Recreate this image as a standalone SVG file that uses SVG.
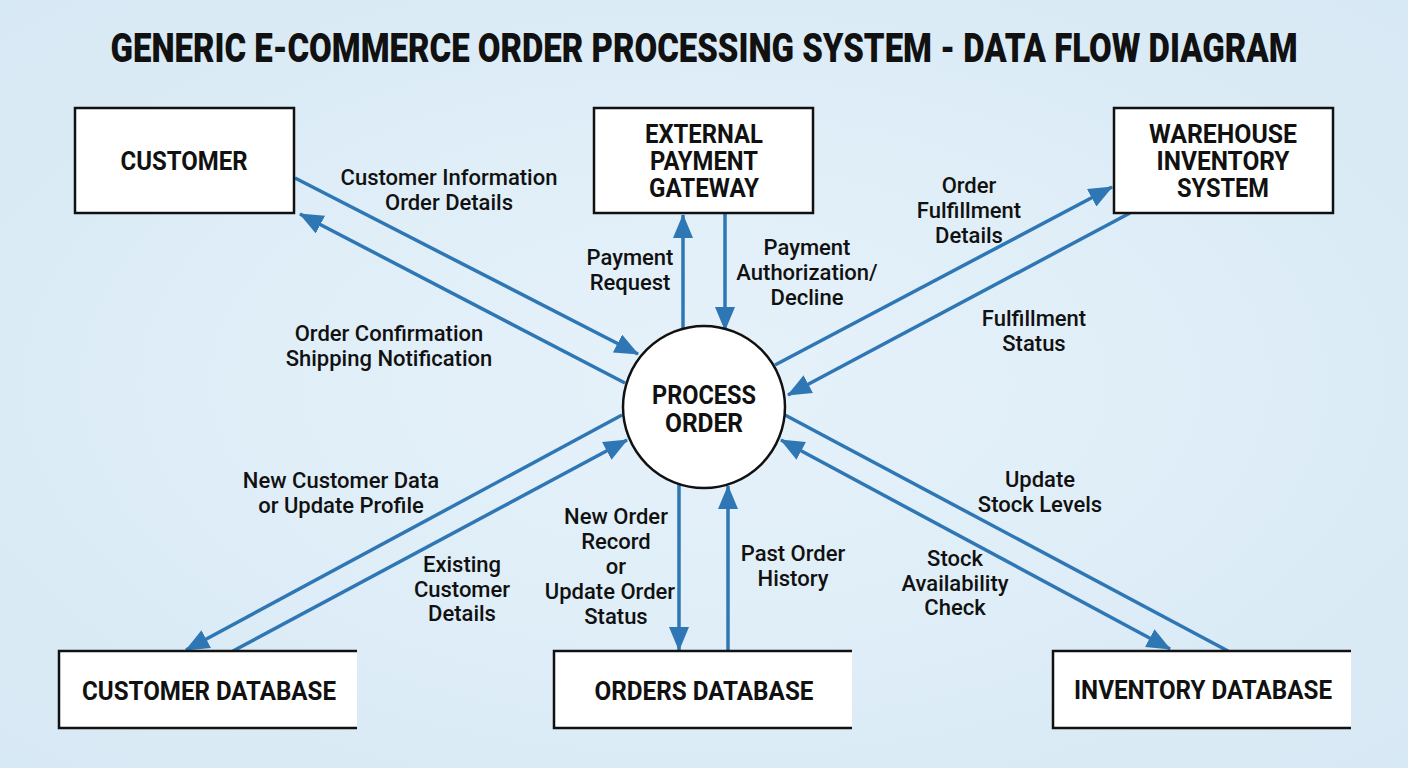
<svg xmlns="http://www.w3.org/2000/svg" width="1408" height="768" viewBox="0 0 1408 768">
<defs>
<radialGradient id="bg" cx="50%" cy="50%" r="75%">
<stop offset="0" stop-color="#E6F2FA"/>
<stop offset="1" stop-color="#D6E8F4"/>
</radialGradient>
<marker id="ah" viewBox="0 0 24 20" refX="23" refY="10" markerWidth="24" markerHeight="20" markerUnits="userSpaceOnUse" orient="auto-start-reverse">
<path d="M0,0 L24,10 L0,20 Z" fill="#2E77B4"/>
</marker>
<style>
.title{font-family:Roboto,"Liberation Sans",sans-serif;font-weight:900;font-size:41px;fill:#111;text-anchor:middle}
.box{fill:#fff;stroke:#111;stroke-width:2.5}
.store{fill:#fff;stroke:none}
.storeline{fill:none;stroke:#111;stroke-width:2.5}
.nl{font-family:Roboto,"Liberation Sans",sans-serif;font-weight:700;font-size:25px;fill:#111;text-anchor:middle}
.el{font-family:Roboto,"Liberation Sans",sans-serif;font-weight:500;font-size:22px;fill:#111;text-anchor:middle}
.flow{fill:none;stroke:#2E77B4;stroke-width:3.5}
.arr{marker-end:url(#ah)}
</style>
</defs>
<rect width="1408" height="768" fill="url(#bg)"/>
<text class="title" x="704" y="62" textLength="1187" lengthAdjust="spacingAndGlyphs">GENERIC E-COMMERCE ORDER PROCESSING SYSTEM - DATA FLOW DIAGRAM</text>

<g id="connectors">
<line class="flow arr" x1="295" y1="178" x2="638" y2="354"/>
<line class="flow arr" x1="625" y1="383" x2="300" y2="214"/>
<line class="flow arr" x1="683" y1="331" x2="683" y2="215"/>
<line class="flow arr" x1="725" y1="213" x2="725" y2="330"/>
<line class="flow arr" x1="775" y1="365" x2="1112" y2="187"/>
<line class="flow arr" x1="1130" y1="213" x2="788" y2="395"/>
<line class="flow arr" x1="622" y1="415" x2="186" y2="650"/>
<line class="flow arr" x1="233" y1="651" x2="627" y2="440"/>
<line class="flow arr" x1="679" y1="484" x2="679" y2="650"/>
<line class="flow arr" x1="728" y1="651" x2="728" y2="486"/>
<line class="flow" x1="785" y1="415" x2="1228" y2="651"/>
<line class="flow arr" x1="1170" y1="649" x2="781" y2="440" style="marker-start:url(#ah)"/>
</g>

<g id="customer">
<rect class="box" x="75" y="108" width="219" height="105"/>
<text class="nl" x="184" y="170" textLength="127" lengthAdjust="spacingAndGlyphs">CUSTOMER</text>
</g>

<g id="payment-gateway">
<rect class="box" x="594" y="108" width="219" height="105"/>
<text class="nl" x="704" y="143" textLength="118" lengthAdjust="spacingAndGlyphs">EXTERNAL</text>
<text class="nl" x="704" y="170" textLength="108" lengthAdjust="spacingAndGlyphs">PAYMENT</text>
<text class="nl" x="704" y="197" textLength="110" lengthAdjust="spacingAndGlyphs">GATEWAY</text>
</g>

<g id="warehouse">
<rect class="box" x="1114" y="108" width="219" height="105"/>
<text class="nl" x="1223" y="143" textLength="148" lengthAdjust="spacingAndGlyphs">WAREHOUSE</text>
<text class="nl" x="1223" y="170" textLength="133" lengthAdjust="spacingAndGlyphs">INVENTORY</text>
<text class="nl" x="1223" y="197" textLength="92" lengthAdjust="spacingAndGlyphs">SYSTEM</text>
</g>

<g id="process-order">
<circle cx="704" cy="407" r="81" fill="#fff" stroke="#111" stroke-width="2.5"/>
<text class="nl" x="704" y="404" textLength="104" lengthAdjust="spacingAndGlyphs">PROCESS</text>
<text class="nl" x="704" y="432" textLength="78" lengthAdjust="spacingAndGlyphs">ORDER</text>
</g>

<g id="customer-database">
<rect class="store" x="59" y="651" width="298" height="77"/>
<path class="storeline" d="M357,651 H59 V728 H357"/>
<text class="nl" x="209" y="700" textLength="254" lengthAdjust="spacingAndGlyphs">CUSTOMER DATABASE</text>
</g>

<g id="orders-database">
<rect class="store" x="554" y="651" width="298" height="77"/>
<path class="storeline" d="M852,651 H554 V728 H852"/>
<text class="nl" x="704" y="700" textLength="219" lengthAdjust="spacingAndGlyphs">ORDERS DATABASE</text>
</g>

<g id="inventory-database">
<rect class="store" x="1053" y="651" width="298" height="77"/>
<path class="storeline" d="M1351,651 H1053 V728 H1351"/>
<text class="nl" x="1203" y="699" textLength="258" lengthAdjust="spacingAndGlyphs">INVENTORY DATABASE</text>
</g>

<g id="labels">
<text class="el" x="449" y="185">Customer Information</text>
<text class="el" x="449" y="210">Order Details</text>
<text class="el" x="389" y="341">Order Confirmation</text>
<text class="el" x="389" y="366">Shipping Notification</text>
<text class="el" x="630" y="265">Payment</text>
<text class="el" x="630" y="290">Request</text>
<text class="el" x="807" y="255">Payment</text>
<text class="el" x="807" y="280">Authorization/</text>
<text class="el" x="807" y="305">Decline</text>
<text class="el" x="969" y="193">Order</text>
<text class="el" x="969" y="218">Fulfillment</text>
<text class="el" x="969" y="243">Details</text>
<text class="el" x="1034" y="326">Fulfillment</text>
<text class="el" x="1034" y="351">Status</text>
<text class="el" x="341" y="488">New Customer Data</text>
<text class="el" x="341" y="513">or Update Profile</text>
<text class="el" x="462" y="572">Existing</text>
<text class="el" x="462" y="597">Customer</text>
<text class="el" x="462" y="621">Details</text>
<text class="el" x="616" y="524">New Order</text>
<text class="el" x="616" y="549">Record</text>
<text class="el" x="616" y="574">or</text>
<text class="el" x="610" y="599">Update Order</text>
<text class="el" x="616" y="624">Status</text>
<text class="el" x="793" y="561">Past Order</text>
<text class="el" x="793" y="586">History</text>
<text class="el" x="1040" y="487">Update</text>
<text class="el" x="1040" y="512">Stock Levels</text>
<text class="el" x="955" y="566">Stock</text>
<text class="el" x="955" y="591">Availability</text>
<text class="el" x="955" y="615">Check</text>
</g>
</svg>
